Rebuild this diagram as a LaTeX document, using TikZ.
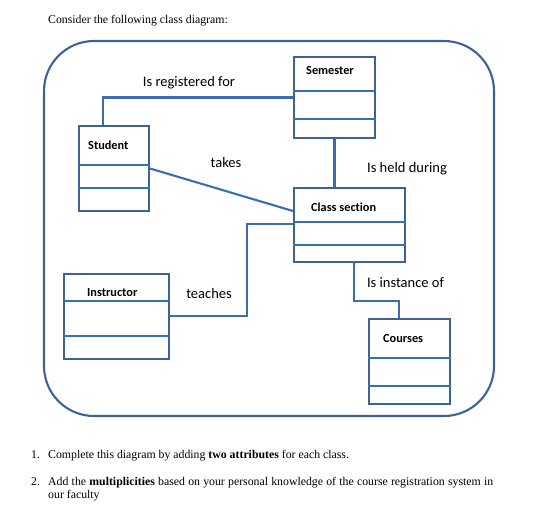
\documentclass[tikz,border=0pt]{standalone}
\usepackage{fontspec}
\setmainfont{Liberation Serif}
\newfontfamily\califont[Ligatures=NoCommon]{Carlito}
\usetikzlibrary{calc}
\definecolor{outercol}{HTML}{3E6298}
\definecolor{boxcol}{HTML}{3D6199}
\definecolor{divcol}{HTML}{2F72C2}
\definecolor{concol}{HTML}{3A6DB8}
\tikzset{
  cls/.style={draw=boxcol, line width=2.1pt, rectangle, inner sep=0pt},
  divline/.style={draw=divcol, line width=2.1pt},
  conn/.style={draw=concol, line width=2.1pt},
  lbl/.style={font=\califont\fontsize{14.5}{16}\selectfont, inner sep=0pt},
  ttl/.style={font=\califont\bfseries\fontsize{12.3}{14}\selectfont, inner sep=0pt},
  txt/.style={font=\fontsize{11.8}{13}\selectfont, inner sep=0pt}
}
\begin{document}
\begin{tikzpicture}[x=1pt,y=-1pt]
\useasboundingbox (0,0) rectangle (540,512);
% header
\node[txt, anchor=base west] (hdr) at (48,23.5) {Consider the following class diagram:};
% outer frame
\draw[draw=outercol, line width=2.1pt, rounded corners=50pt] (44,41) rectangle (494,416);
% classes
\node[cls, minimum width=70pt, minimum height=85pt] (student) at (114,168.5) {};
\node[cls, minimum width=81pt, minimum height=81pt] (semester) at (334.5,97.5) {};
\node[cls, minimum width=111pt, minimum height=74pt] (csec) at (349.5,225) {};
\node[cls, minimum width=105pt, minimum height=85pt] (instr) at (116.5,316.5) {};
\node[cls, minimum width=81pt, minimum height=85pt] (courses) at (409.5,361.5) {};
% dividers
\draw[divline] ([yshift=-40pt]student.north west) -- ([yshift=-40pt]student.north east);
\draw[divline] ([yshift=-63pt]student.north west) -- ([yshift=-63pt]student.north east);
\draw[divline] ([yshift=-35pt]semester.north west) -- ([yshift=-35pt]semester.north east);
\draw[divline] ([yshift=-63pt]semester.north west) -- ([yshift=-63pt]semester.north east);
\draw[divline] ([yshift=-35pt,xshift=2.5pt]csec.north west) -- ([yshift=-35pt]csec.north east);
\draw[divline] ([yshift=-58pt]csec.north west) -- ([yshift=-58pt]csec.north east);
\draw[divline] ([yshift=-28pt]instr.north west) -- ([yshift=-28pt]instr.north east);
\draw[divline] ([yshift=-63pt]instr.north west) -- ([yshift=-63pt]instr.north east);
\draw[divline] ([yshift=-40pt]courses.north west) -- ([yshift=-40pt]courses.north east);
\draw[divline] ([yshift=-68pt]courses.north west) -- ([yshift=-68pt]courses.north east);
% titles
\node[ttl, anchor=west] (tstudent) at (88,145) {Student};
\node[ttl, anchor=west] (tsemester) at (306,71) {Semester};
\node[ttl, anchor=west] (tcsec) at (311,207) {Class section};
\node[ttl, anchor=west] (tinstr) at (87,293) {Instructor};
\node[ttl, anchor=west] (tcourses) at (383,339) {Courses};
% connectors
\draw[conn] ([xshift=25pt]student.north west) |- (semester.west);
\draw[conn] (student.east) -- ([yshift=14pt]csec.west);
\draw[conn] (semester.south) -- (semester.south |- csec.north);
\coordinate (tk) at (247,316);
\draw[conn] ([yshift=1pt]csec.west) -| (tk) -- (tk -| instr.east);
\coordinate (ib) at (0,301);
\draw[conn] ([xshift=4.5pt]csec.south) -- ([xshift=4.5pt]csec.south |- ib) -| ([xshift=-10.5pt]courses.north);
% association labels
\node[lbl] (lreg) at (189,83) {Is registered for};
\node[lbl] (ltakes) at (226,163) {takes};
\node[lbl] (lheld) at (407,169) {Is held during};
\node[lbl] (linst) at (405.5,283) {Is instance of};
\node[lbl] (lteach) at (209,294) {teaches};
% instructions
\node[txt, anchor=base west] (n1) at (31,458) {1.};
\node[txt, anchor=base west] (i1) at (48,458) {Complete this diagram by adding \textbf{two attributes} for each class.};
\node[txt, anchor=base west] (n2) at (31,485) {2.};
\node[txt, anchor=base west] (i2a) at (48,485) {\makebox[445pt][s]{Add the \textbf{multiplicities} based on your personal knowledge of the course registration system in}};
\node[txt, anchor=base west] (i2b) at (48,498) {our faculty};
\end{tikzpicture}
\end{document}
